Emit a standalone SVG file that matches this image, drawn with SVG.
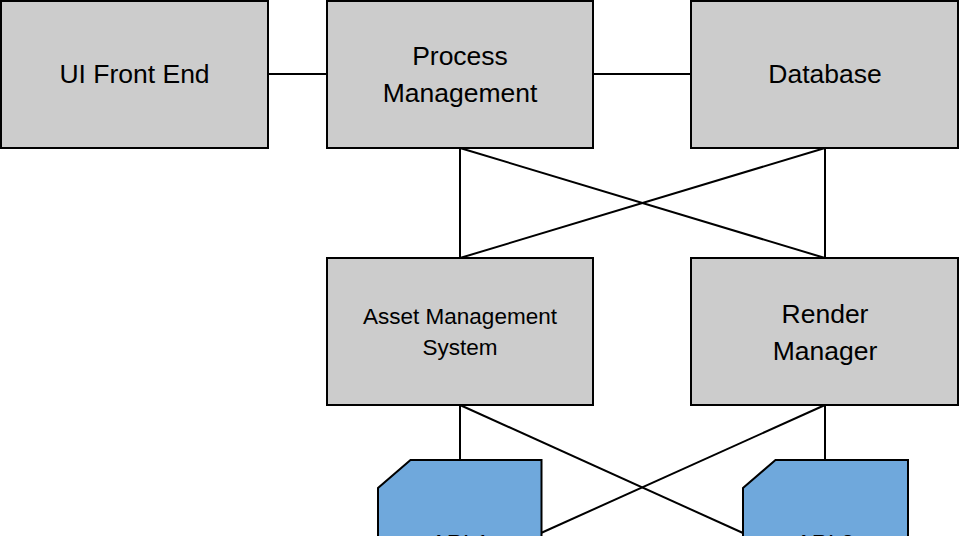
<svg xmlns="http://www.w3.org/2000/svg" width="967" height="536" viewBox="0 0 967 536">
<style>
.box{fill:#cccccc;stroke:#000;stroke-width:2}
.api{fill:#6fa8dc;stroke:#000;stroke-width:2}
.lbl{font-family:"Liberation Sans",Arial,sans-serif;font-size:26.5px;fill:#000;text-anchor:middle}
.sm{font-size:22.5px}
.conn line{stroke:#000;stroke-width:2;fill:none}
</style>
<rect width="967" height="536" fill="#ffffff"/>
<g class="conn" id="connectors">
<line x1="268" y1="74" x2="327" y2="74"/>
<line x1="593" y1="74" x2="691" y2="74"/>
<line x1="460" y1="148" x2="460" y2="258"/>
<line x1="460" y1="148" x2="825" y2="258"/>
<line x1="825" y1="148" x2="460" y2="258"/>
<line x1="825" y1="148" x2="825" y2="258"/>
<line x1="460" y1="405" x2="460" y2="460"/>
<line x1="460" y1="405" x2="743" y2="533"/>
<line x1="825" y1="405" x2="541" y2="533"/>
<line x1="825" y1="405" x2="825" y2="460"/>
</g>
<g id="ui-front-end">
<rect class="box" x="1" y="1" width="267" height="147"/>
<text class="lbl" x="134.5" y="83">UI Front End</text>
</g>
<g id="process-management">
<rect class="box" x="327" y="1" width="266" height="147"/>
<text class="lbl" x="460" y="65">Process</text>
<text class="lbl" x="460" y="101.5">Management</text>
</g>
<g id="database">
<rect class="box" x="691" y="1" width="267" height="147"/>
<text class="lbl" x="825" y="83">Database</text>
</g>
<g id="asset-management-system">
<rect class="box" x="327" y="258" width="266" height="147"/>
<text class="lbl sm" x="460" y="323.5">Asset Management</text>
<text class="lbl sm" x="460" y="354.5">System</text>
</g>
<g id="render-manager">
<rect class="box" x="691" y="258" width="267" height="147"/>
<text class="lbl" x="825" y="323">Render</text>
<text class="lbl" x="825" y="359.5">Manager</text>
</g>
<g id="api-1">
<path class="api" d="M410.5,460 H541.5 V607 H378 V488 Z"/>
<text class="lbl" x="460" y="551.5" style="font-size:24px">API 1</text>
</g>
<g id="api-2">
<path class="api" d="M775.5,460 H908 V607 H743 V488 Z"/>
<text class="lbl" x="825" y="551.5" style="font-size:24px">API 2</text>
</g>
</svg>
